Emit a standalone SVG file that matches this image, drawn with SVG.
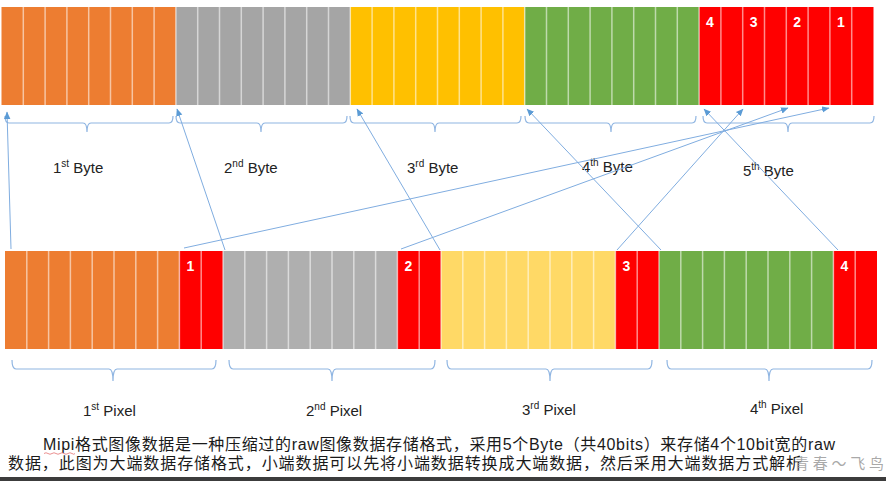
<svg xmlns="http://www.w3.org/2000/svg" width="886" height="481" viewBox="0 0 886 481">
<style>
.sep{stroke:#ffffff;stroke-opacity:0.55;stroke-width:1.5;fill:none}
.num{font-family:"Liberation Sans",Arial,sans-serif;font-weight:bold;font-size:14px;fill:#ffffff;text-anchor:middle}
.lbl{font-family:"Liberation Sans",Arial,sans-serif;font-size:15px;fill:#222222}
.sup{font-size:10px}
.brace{stroke:#8fb5e2;stroke-width:1.2;fill:none}
.conn{stroke:#80ade0;stroke-width:1;fill:none;marker-end:url(#ah)}
.txt{font-family:"Liberation Sans","Noto Sans CJK SC",sans-serif;font-size:16px;fill:#1a1a1a}
</style>
<defs>
<marker id="ah" markerUnits="userSpaceOnUse" markerWidth="8" markerHeight="8" viewBox="0 0 8 8" refX="7" refY="4" orient="auto">
<path d="M0,0.8 L7.5,4 L0,7.2 Z" fill="#5b9bd5"/>
</marker>
</defs>
<rect width="886" height="481" fill="#ffffff"/>

<g id="top-bytes">
<rect x="1.5" y="7" width="174.4" height="98" fill="#ed7d31"/>
<rect x="175.9" y="7" width="174.4" height="98" fill="#a5a5a5"/>
<rect x="350.3" y="7" width="174.4" height="98" fill="#ffc000"/>
<rect x="524.7" y="7" width="174.4" height="98" fill="#70ad47"/>
<rect x="699.1" y="7" width="174.4" height="98" fill="#ff0000"/>
<path class="sep" d="M23.3 7V105M45.1 7V105M66.9 7V105M88.7 7V105M110.5 7V105M132.3 7V105M154.1 7V105M175.9 7V105M197.7 7V105M219.5 7V105M241.3 7V105M263.1 7V105M284.9 7V105M306.7 7V105M328.5 7V105M350.3 7V105M372.1 7V105M393.9 7V105M415.7 7V105M437.5 7V105M459.3 7V105M481.1 7V105M502.9 7V105M524.7 7V105M546.5 7V105M568.3 7V105M590.1 7V105M611.9 7V105M633.7 7V105M655.5 7V105M677.3 7V105M699.1 7V105M720.9 7V105M742.7 7V105M764.5 7V105M786.3 7V105M808.1 7V105M829.9 7V105M851.7 7V105"/>
<text class="num" x="710" y="27">4</text>
<text class="num" x="753.6" y="27">3</text>
<text class="num" x="797.2" y="27">2</text>
<text class="num" x="840.8" y="27">1</text>
</g>

<g id="byte-braces">
<path class="brace" d="M5 116Q5 123 9 123L83 123Q87 123 87 132Q87 123 91 123L169 123Q173 123 173 116"/>
<path class="brace" d="M176 116Q176 123 180 123L257 123Q261 123 261 132Q261 123 265 123L343 123Q347 123 347 116"/>
<path class="brace" d="M350 116Q350 123 354 123L431 123Q435 123 435 132Q435 123 439 123L517 123Q521 123 521 116"/>
<path class="brace" d="M525 116Q525 123 529 123L607 123Q611 123 611 132Q611 123 615 123L692 123Q696 123 696 116"/>
<path class="brace" d="M703 116Q703 123 707 123L784 123Q788 123 788 132Q788 123 792 123L870 123Q874 123 874 116"/>
</g>

<g id="byte-labels">
<text class="lbl" x="53" y="173">1<tspan class="sup" dy="-6">st</tspan><tspan dy="6"> Byte</tspan></text>
<text class="lbl" x="224" y="173">2<tspan class="sup" dy="-6">nd</tspan><tspan dy="6"> Byte</tspan></text>
<text class="lbl" x="407" y="173">3<tspan class="sup" dy="-6">rd</tspan><tspan dy="6"> Byte</tspan></text>
<text class="lbl" x="582" y="172">4<tspan class="sup" dy="-6">th</tspan><tspan dy="6"> Byte</tspan></text>
<text class="lbl" x="743" y="176">5<tspan class="sup" dy="-6">th</tspan><tspan dy="6"> Byte</tspan></text>
</g>

<g id="bottom-pixels">
<rect x="5" y="251" width="174.4" height="98" fill="#ed7d31"/>
<rect x="179.4" y="251" width="43.6" height="98" fill="#ff0000"/>
<rect x="223" y="251" width="174.4" height="98" fill="#afafaf"/>
<rect x="397.4" y="251" width="43.6" height="98" fill="#ff0000"/>
<rect x="441" y="251" width="174.4" height="98" fill="#ffd966"/>
<rect x="615.4" y="251" width="43.6" height="98" fill="#ff0000"/>
<rect x="659" y="251" width="174.4" height="98" fill="#70ad47"/>
<rect x="833.4" y="251" width="43.6" height="98" fill="#ff0000"/>
<path class="sep" d="M26.8 251V349M48.6 251V349M70.4 251V349M92.2 251V349M114 251V349M135.8 251V349M157.6 251V349M179.4 251V349M201.2 251V349M223 251V349M244.8 251V349M266.6 251V349M288.4 251V349M310.2 251V349M332 251V349M353.8 251V349M375.6 251V349M397.4 251V349M419.2 251V349M441 251V349M462.8 251V349M484.6 251V349M506.4 251V349M528.2 251V349M550 251V349M571.8 251V349M593.6 251V349M615.4 251V349M637.2 251V349M659 251V349M680.8 251V349M702.6 251V349M724.4 251V349M746.2 251V349M768 251V349M789.8 251V349M811.6 251V349M833.4 251V349M855.2 251V349"/>
<text class="num" x="190.3" y="271">1</text>
<text class="num" x="408.3" y="271">2</text>
<text class="num" x="626.3" y="271">3</text>
<text class="num" x="844.3" y="271">4</text>
</g>

<g id="pixel-braces">
<path class="brace" d="M12 360Q12 369 16 369L109 369Q113 369 113 381Q113 369 117 369L212 369Q216 369 216 360"/>
<path class="brace" d="M229 360Q229 369 233 369L328 369Q332 369 332 381Q332 369 336 369L431 369Q435 369 435 360"/>
<path class="brace" d="M447 360Q447 369 451 369L546 369Q550 369 550 381Q550 369 554 369L648 369Q652 369 652 360"/>
<path class="brace" d="M667 360Q667 369 671 369L765 369Q769 369 769 381Q769 369 773 369L868 369Q872 369 872 360"/>
</g>

<g id="pixel-labels">
<text class="lbl" x="83" y="416">1<tspan class="sup" dy="-6">st</tspan><tspan dy="6"> Pixel</tspan></text>
<text class="lbl" x="306" y="416">2<tspan class="sup" dy="-6">nd</tspan><tspan dy="6"> Pixel</tspan></text>
<text class="lbl" x="522" y="415">3<tspan class="sup" dy="-6">rd</tspan><tspan dy="6"> Pixel</tspan></text>
<text class="lbl" x="750" y="414">4<tspan class="sup" dy="-6">th</tspan><tspan dy="6"> Pixel</tspan></text>
</g>

<g id="connectors">
<line class="conn" x1="11" y1="249" x2="7" y2="112"/>
<line class="conn" x1="225" y1="250" x2="177" y2="109"/>
<line class="conn" x1="440" y1="250" x2="357" y2="109"/>
<line class="conn" x1="661" y1="250" x2="527" y2="109"/>
<line class="conn" x1="838" y1="250" x2="704" y2="109"/>
<line class="conn" x1="617" y1="250" x2="743" y2="109"/>
<line class="conn" x1="401" y1="249" x2="788" y2="108"/>
<line class="conn" x1="184" y1="248" x2="829" y2="108"/>
</g>

<g id="caption">
<text class="txt" x="43" y="450" textLength="792" lengthAdjust="spacing">Mipi格式图像数据是一种压缩过的raw图像数据存储格式，采用5个Byte（共40bits）来存储4个10bit宽的raw</text>
<path d="M44 453.5 Q46 452 48 453.5 T52 453.5 T56 453.5 T60 453.5 T64 453.5 T68 453.5 T72 453.5 T75 453.5" stroke="#e57373" stroke-width="0.8" fill="none"/>
<text class="txt" x="8" y="469" textLength="794" lengthAdjust="spacing">数据，此图为大端数据存储格式，小端数据可以先将小端数据转换成大端数据，然后采用大端数据方式解析</text>
<text x="794" y="469" textLength="90" lengthAdjust="spacing" style="font-family:'Noto Sans CJK SC',sans-serif;font-size:15px;fill:#9a9a9a;fill-opacity:0.85">青春～飞鸟</text>
</g>
<rect x="0" y="477" width="886" height="4" fill="#3c3c3c"/>
</svg>
